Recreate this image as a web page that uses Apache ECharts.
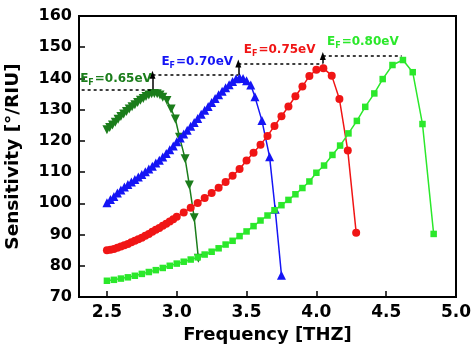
<!DOCTYPE html>
<html><head><meta charset="utf-8">
<script src="https://cdn.jsdelivr.net/npm/echarts@6/dist/echarts.min.js"></script>
<style>html,body{margin:0;padding:0;background:#fff}#c{width:474px;height:361px}</style>
</head><body><div id="c"></div>
<script>
// ---- data ----
const freq065 = [2.50,2.52,2.54,2.56,2.58,2.60,2.62,2.64,2.66,2.68,2.70,2.72,2.74,2.76,2.78,2.80,2.82,2.84,2.86,2.88,2.90,2.93,2.96,2.99,3.02,3.06,3.09,3.125,3.155];
const sens065 = [123.6,124.3,125.1,126.0,126.9,127.8,128.6,129.4,130.2,130.9,131.6,132.3,133.0,133.6,134.2,134.7,135.1,135.2,135.1,134.7,134.0,132.9,130.2,127.0,121.2,114.3,105.9,95.4,82.4];

const freq070 = [2.50,2.525,2.55,2.575,2.60,2.625,2.65,2.675,2.70,2.725,2.75,2.775,2.80,2.825,2.85,2.875,2.90,2.925,2.95,2.975,3.00,3.025,3.05,3.075,3.10,3.125,3.15,3.175,3.20,3.225,3.25,3.275,3.30,3.325,3.35,3.375,3.40,3.425,3.45,3.475,3.50,3.53,3.56,3.61,3.665,3.705,3.75];
const sens070 = [100.2,101.2,102.2,103.3,104.3,105.2,106.0,106.8,107.6,108.4,109.2,110.1,111.0,111.9,112.9,113.8,114.8,116.0,117.2,118.4,119.7,120.9,122.2,123.4,124.7,125.9,127.2,128.5,129.8,131.0,132.3,133.6,134.8,135.9,137.0,138.0,139.0,139.9,140.3,140.0,139.3,137.9,134.1,126.5,114.9,98.1,77.0];

const freq075 = [2.50,2.525,2.55,2.575,2.60,2.625,2.65,2.675,2.70,2.725,2.75,2.775,2.80,2.825,2.85,2.875,2.90,2.925,2.95,2.975,3.00,3.05,3.10,3.15,3.20,3.25,3.30,3.35,3.40,3.45,3.50,3.55,3.60,3.65,3.70,3.75,3.80,3.85,3.90,3.95,4.00,4.05,4.11,4.165,4.225,4.285];
const sens075 = [85.0,85.1,85.4,85.8,86.2,86.6,87.0,87.5,88.0,88.5,89.0,89.6,90.2,90.9,91.5,92.1,92.8,93.5,94.2,94.9,95.7,97.1,98.6,100.1,101.7,103.3,105.0,106.8,108.8,111.0,113.7,116.2,118.8,121.6,124.8,127.9,131.0,134.3,137.4,140.8,142.8,143.3,140.9,133.4,116.9,90.6];

const freq080 = [2.50,2.55,2.60,2.65,2.70,2.75,2.80,2.85,2.90,2.95,3.00,3.05,3.10,3.15,3.20,3.25,3.30,3.35,3.40,3.45,3.50,3.55,3.60,3.65,3.70,3.75,3.80,3.85,3.90,3.95,4.00,4.055,4.115,4.17,4.23,4.29,4.35,4.415,4.475,4.545,4.62,4.69,4.76,4.84];
const sens080 = [75.2,75.5,75.9,76.3,76.8,77.4,78.0,78.6,79.3,80.0,80.7,81.3,82.0,82.7,83.6,84.5,85.6,86.8,88.0,89.5,91.0,92.7,94.5,96.1,97.8,99.4,101.1,102.9,104.9,107.0,109.8,112.1,115.5,118.5,122.4,126.4,130.9,135.2,139.8,144.3,145.9,142.0,125.4,90.2];

const xTicks = [2.5,3.0,3.5,4.0,4.5,5.0];
const yMin = 70, yMax = 160, yStep = 10;

// annotation: peak-level dashed lines and arrows (data units)
const levelLines = [[2.319,136.5,2.826],[2.826,141.2,3.441],[3.441,144.8,4.046],[4.046,147.2,4.611]];
const arrowX = [2.826,3.441,4.046];
const arrowFrom = [136.5,141.2,144.8];
const arrowTo = [141.2,144.8,147.2];
const labelText = ['0.65','0.70','0.75','0.80'];
const labelPos = [[2.565,139.8],[3.147,145.4],[3.737,149.1],[4.333,151.8]];

const colors = ['#1b7d1b','#1515f5','#f01515','#2be82b'];
const FONT = 'DejaVu Sans';

function pairs(xs, ys){ return xs.map((x,i)=>[x, ys[i]]); }

const markData = [];
levelLines.forEach(l => markData.push([
  {coord:[l[0], l[1]], symbol:'none', lineStyle:{type:[3,3], width:1.5, color:'#000'}},
  {coord:[l[2], l[1]], symbol:'none'}
]));
arrowX.forEach((x,i) => markData.push([
  {coord:[x, arrowFrom[i]], symbol:'none', lineStyle:{type:'solid', width:1.5, color:'#000'}},
  {coord:[x, arrowTo[i]], symbol:'triangle', symbolSize:[6,8]}
]));

const labelData = labelPos.map((p,i)=>({
  value:p,
  label:{
    show:true, position:'inside',
    formatter:'{e|E}{s|F}{e|=' + labelText[i] + 'eV}',
    rich:{
      e:{fontFamily:FONT, fontWeight:'bold', fontSize:12, color:colors[i]},
      s:{fontFamily:FONT, fontWeight:'bold', fontSize:8, color:colors[i], padding:[8,1,0,0]}
    }
  }
}));

const mk = (i, xs, ys, symbol, size, rot) => ({
  type:'line', data:pairs(xs,ys), symbol:symbol, symbolSize:size, symbolRotate:rot||0,
  showAllSymbol:true, color:colors[i],
  lineStyle:{color:colors[i], width:1.5},
  itemStyle:{color:colors[i]}, z: 3+i
});

const chart = echarts.init(document.getElementById('c'), null, {renderer:'canvas'});
chart.setOption({
  animation:false,
  backgroundColor:'#fff',
  grid:{left:79, right:18, top:16, bottom:64, show:true, borderColor:'#000', borderWidth:2,
    backgroundColor:'transparent', containLabel:false, outerBoundsMode:'none'},
  xAxis:{
    type:'value', min:2.3, max:5.0,
    name:'Frequency [THZ]', nameLocation:'middle', nameGap:26,
    nameTextStyle:{fontFamily:FONT, fontWeight:'bold', fontSize:18, color:'#000'},
    axisLine:{show:true, onZero:false, lineStyle:{color:'#000', width:2}},
    axisTick:{show:true, inside:true, length:6, lineStyle:{color:'#000', width:1.5}, customValues:xTicks},
    axisLabel:{fontFamily:FONT, fontWeight:'bold', fontSize:17, color:'#000', margin:7,
      customValues:xTicks, formatter:v=>v.toFixed(1)},
    splitLine:{show:false}
  },
  yAxis:{
    type:'value', min:yMin, max:yMax, interval:yStep,
    name:'Sensitivity [°/RIU]', nameLocation:'middle', nameGap:56,
    nameTextStyle:{fontFamily:FONT, fontWeight:'bold', fontSize:18.5, color:'#000'},
    axisLine:{show:true, lineStyle:{color:'#000', width:2}},
    axisTick:{show:true, inside:true, length:6, lineStyle:{color:'#000', width:1.5}},
    axisLabel:{fontFamily:FONT, fontWeight:'bold', fontSize:16, color:'#000', margin:7},
    splitLine:{show:false}
  },
  series:[
    mk(0, freq065, sens065, 'triangle', 9, 180),
    mk(1, freq070, sens070, 'triangle', 9),
    mk(2, freq075, sens075, 'circle', 8),
    mk(3, freq080, sens080, 'rect', 6.5),
    {type:'line', data:[], z:10, markLine:{silent:true, animation:false, label:{show:false}, symbol:'none', data:markData}},
    {type:'scatter', data:labelData, symbolSize:2, itemStyle:{color:'rgba(0,0,0,0)', opacity:1}, z:12, silent:true}
  ]
});
</script></body></html>
